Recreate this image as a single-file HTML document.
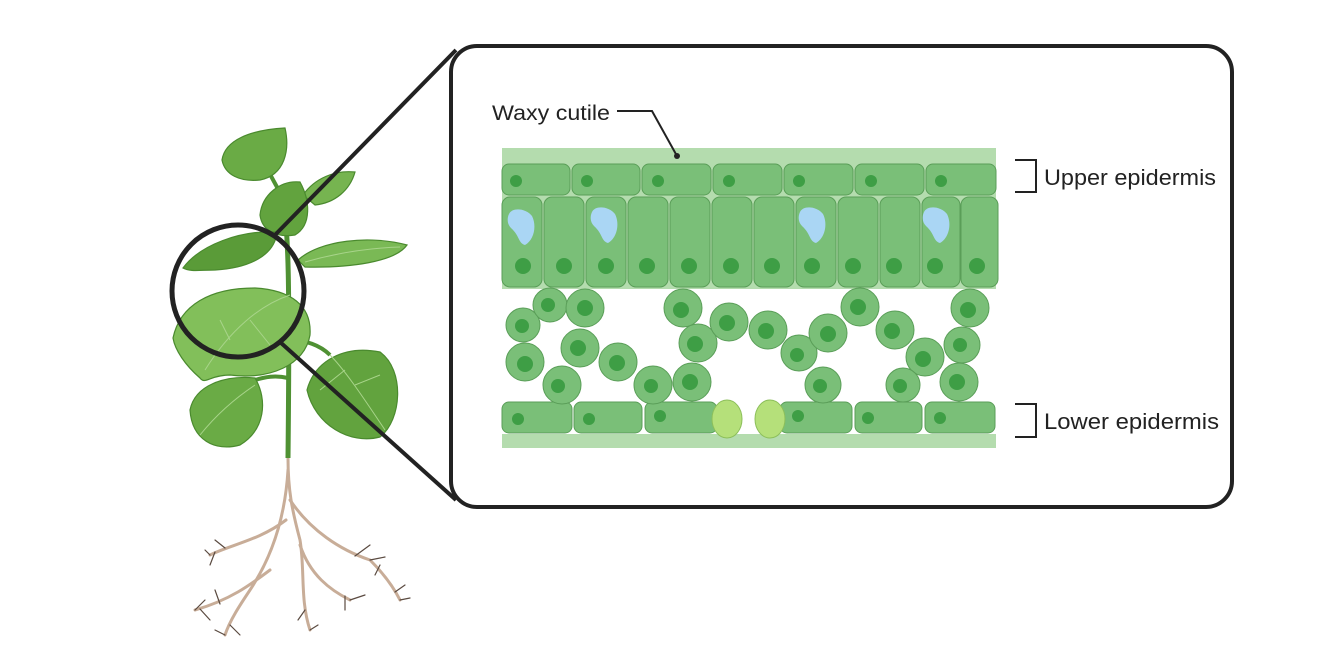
<!DOCTYPE html>
<html><head><meta charset="utf-8"><style>
html,body{margin:0;padding:0;background:#fff;}
svg{display:block;}
text{font-family:"Liberation Sans",sans-serif;fill:#222;}
</style></head><body>
<svg width="1329" height="664" viewBox="0 0 1329 664" xmlns="http://www.w3.org/2000/svg">
<!-- roots -->
<g fill="none" stroke="#c8ad98" stroke-width="3" stroke-linecap="round">
<path d="M288 458 C288 490 292 510 300 540 C305 570 300 600 310 630"/>
<path d="M288 470 C285 520 270 560 250 590 C240 605 230 620 225 635"/>
<path d="M290 500 C310 530 340 550 370 560 C385 575 395 590 400 600"/>
<path d="M286 520 C260 540 230 545 210 555"/>
<path d="M300 545 C310 575 330 590 350 600"/>
<path d="M270 570 C250 585 230 600 195 610"/>
</g>
<g fill="none" stroke="#5a4a40" stroke-width="1.2" stroke-linecap="round">
<path d="M210 555 L205 550 M215 552 L210 565 M225 548 L215 540"/>
<path d="M370 560 L385 557 M380 565 L375 575 M355 556 L370 545"/>
<path d="M195 610 L205 600 M200 609 L210 620 M220 604 L215 590"/>
<path d="M350 600 L365 595 M345 596 L345 610"/>
<path d="M400 600 L410 598 M395 592 L405 585"/>
<path d="M225 635 L215 630 M230 625 L240 635"/>
<path d="M310 630 L318 625 M305 610 L298 620"/>
</g>
<!-- stem -->
<path d="M284 200 C288 240 290 270 288 458" stroke="#4f9133" stroke-width="5" fill="none"/>
<path d="M265 165 L284 200" stroke="#4f9133" stroke-width="4"/>
<path d="M290 340 C305 340 320 345 330 355" stroke="#4f9133" stroke-width="4" fill="none"/>
<path d="M288 378 C275 375 265 377 255 380" stroke="#4f9133" stroke-width="4" fill="none"/>
<!-- leaves -->
<g stroke="#4a8a2e" stroke-width="1.2">
<path d="M222 160 C225 140 250 130 285 128 C290 150 285 175 260 180 C240 182 225 175 222 160Z" fill="#6aab45"/>
<path d="M303 195 C315 178 335 170 355 172 C350 190 335 203 315 205Z" fill="#76b450"/>
<path d="M260 215 C262 195 280 180 300 182 C310 200 312 225 295 235 C275 238 262 230 260 215Z" fill="#62a33e"/>
<path d="M183 268 C200 245 240 230 277 232 C275 255 250 268 215 270 C200 270 190 272 183 268Z" fill="#5a9b38"/>
<path d="M298 260 C320 240 370 235 407 245 C395 262 350 268 305 267Z" fill="#7ab955"/>
<path d="M173 338 C180 305 210 288 255 288 C290 290 312 305 310 335 C305 365 270 380 230 375 C210 375 205 385 200 378 C185 365 175 350 173 338Z" fill="#82bf5a"/>
<path d="M190 410 C195 385 225 375 255 378 C268 400 265 430 240 445 C215 452 192 440 190 410Z" fill="#6aab45"/>
<path d="M307 390 C315 360 345 345 380 352 C405 370 402 420 380 437 C350 445 315 425 307 390Z" fill="#62a33e"/>
</g>
<g fill="none" stroke="#a8d48a" stroke-width="1">
<path d="M205 370 C230 330 260 305 290 295"/><path d="M230 340 L220 320 M250 320 L270 345"/>
<path d="M200 435 C220 410 240 395 255 385"/>
<path d="M385 430 C365 400 345 370 330 355"/><path d="M355 385 L380 375 M345 370 L320 390"/>
<path d="M305 262 C340 252 370 248 400 247"/>
</g>
<!-- magnifier -->
<circle cx="238" cy="291" r="66" fill="none" stroke="#222" stroke-width="5"/>
<line x1="274" y1="236" x2="456" y2="50" stroke="#222" stroke-width="4"/>
<line x1="280" y1="342" x2="456" y2="500" stroke="#222" stroke-width="4"/>
<rect x="451" y="46" width="781" height="461" rx="26" fill="#fff" stroke="#222" stroke-width="4"/>
<!-- cuticle -->
<rect x="502" y="148" width="494" height="300" fill="#b4dcae"/>
<rect x="502" y="289" width="494" height="145" fill="#fff"/>
<g fill="#7abf78" stroke="#5a9e58" stroke-width="1">
<rect x="502" y="164" width="68" height="31" rx="7"/>
<rect x="572" y="164" width="68" height="31" rx="7"/>
<rect x="642" y="164" width="69" height="31" rx="7"/>
<rect x="713" y="164" width="69" height="31" rx="7"/>
<rect x="784" y="164" width="69" height="31" rx="7"/>
<rect x="855" y="164" width="69" height="31" rx="7"/>
<rect x="926" y="164" width="70" height="31" rx="7"/>
<rect x="502" y="197" width="40" height="90" rx="8"/>
<rect x="544" y="197" width="40" height="90" rx="8"/>
<rect x="586" y="197" width="40" height="90" rx="8"/>
<rect x="628" y="197" width="40" height="90" rx="8"/>
<rect x="670" y="197" width="40" height="90" rx="8"/>
<rect x="712" y="197" width="40" height="90" rx="8"/>
<rect x="754" y="197" width="40" height="90" rx="8"/>
<rect x="796" y="197" width="40" height="90" rx="8"/>
<rect x="838" y="197" width="40" height="90" rx="8"/>
<rect x="880" y="197" width="40" height="90" rx="8"/>
<rect x="922" y="197" width="38" height="90" rx="8"/>
<rect x="961" y="197" width="37" height="90" rx="8"/>
<rect x="502" y="402" width="70" height="31" rx="7"/>
<rect x="574" y="402" width="68" height="31" rx="7"/>
<rect x="645" y="402" width="72" height="31" rx="7"/>
<rect x="780" y="402" width="72" height="31" rx="7"/>
<rect x="855" y="402" width="67" height="31" rx="7"/>
<rect x="925" y="402" width="70" height="31" rx="7"/>
<circle cx="523" cy="325" r="17"/><circle cx="550" cy="305" r="17"/><circle cx="585" cy="308" r="19"/>
<circle cx="525" cy="362" r="19"/><circle cx="580" cy="348" r="19"/><circle cx="562" cy="385" r="19"/>
<circle cx="618" cy="362" r="19"/><circle cx="653" cy="385" r="19"/><circle cx="683" cy="308" r="19"/>
<circle cx="698" cy="343" r="19"/><circle cx="692" cy="382" r="19"/><circle cx="729" cy="322" r="19"/>
<circle cx="768" cy="330" r="19"/><circle cx="799" cy="353" r="18"/><circle cx="823" cy="385" r="18"/>
<circle cx="828" cy="333" r="19"/><circle cx="860" cy="307" r="19"/><circle cx="895" cy="330" r="19"/>
<circle cx="925" cy="357" r="19"/><circle cx="903" cy="385" r="17"/><circle cx="970" cy="308" r="19"/>
<circle cx="962" cy="345" r="18"/><circle cx="959" cy="382" r="19"/>
</g>
<ellipse cx="727" cy="419" rx="15" ry="19" fill="#b5e07a" stroke="#8cbf5a"/>
<ellipse cx="770" cy="419" rx="15" ry="19" fill="#b5e07a" stroke="#8cbf5a"/>
<g fill="#aad6f4">
<path d="M509 214 C512 207 526 208 532 216 C537 226 534 240 525 245 C518 243 520 236 511 228 C507 224 507 218 509 214Z"/>
<path d="M592 212 C595 205 609 206 615 214 C620 224 617 238 608 243 C601 241 603 234 594 226 C590 222 590 216 592 212Z"/>
<path d="M800 212 C803 205 817 206 823 214 C828 224 825 238 816 243 C809 241 811 234 802 226 C798 222 798 216 800 212Z"/>
<path d="M924 212 C927 205 941 206 947 214 C952 224 949 238 940 243 C933 241 935 234 926 226 C922 222 922 216 924 212Z"/>
</g>
<g fill="#3e9e45">
<circle cx="516" cy="181" r="6"/><circle cx="587" cy="181" r="6"/><circle cx="658" cy="181" r="6"/>
<circle cx="729" cy="181" r="6"/><circle cx="799" cy="181" r="6"/><circle cx="871" cy="181" r="6"/><circle cx="941" cy="181" r="6"/>
<circle cx="523" cy="266" r="8"/><circle cx="564" cy="266" r="8"/><circle cx="606" cy="266" r="8"/><circle cx="647" cy="266" r="8"/>
<circle cx="689" cy="266" r="8"/><circle cx="731" cy="266" r="8"/><circle cx="772" cy="266" r="8"/><circle cx="812" cy="266" r="8"/>
<circle cx="853" cy="266" r="8"/><circle cx="894" cy="266" r="8"/><circle cx="935" cy="266" r="8"/><circle cx="977" cy="266" r="8"/>
<circle cx="518" cy="419" r="6"/><circle cx="589" cy="419" r="6"/><circle cx="660" cy="416" r="6"/>
<circle cx="798" cy="416" r="6"/><circle cx="868" cy="418" r="6"/><circle cx="940" cy="418" r="6"/>
<circle cx="522" cy="326" r="7"/><circle cx="548" cy="305" r="7"/><circle cx="585" cy="308" r="8"/>
<circle cx="525" cy="364" r="8"/><circle cx="578" cy="348" r="8"/><circle cx="558" cy="386" r="7"/>
<circle cx="617" cy="363" r="8"/><circle cx="651" cy="386" r="7"/><circle cx="681" cy="310" r="8"/>
<circle cx="695" cy="344" r="8"/><circle cx="690" cy="382" r="8"/><circle cx="727" cy="323" r="8"/>
<circle cx="766" cy="331" r="8"/><circle cx="797" cy="355" r="7"/><circle cx="820" cy="386" r="7"/>
<circle cx="828" cy="334" r="8"/><circle cx="858" cy="307" r="8"/><circle cx="892" cy="331" r="8"/>
<circle cx="923" cy="359" r="8"/><circle cx="900" cy="386" r="7"/><circle cx="968" cy="310" r="8"/>
<circle cx="960" cy="345" r="7"/><circle cx="957" cy="382" r="8"/>
</g>
<text x="492" y="120" font-size="21" textLength="118" lengthAdjust="spacingAndGlyphs">Waxy cutile</text>
<polyline points="617,111 652,111 677,156" fill="none" stroke="#222" stroke-width="2"/>
<circle cx="677" cy="156" r="3" fill="#222"/>
<polyline points="1015,160 1036,160 1036,192 1015,192" fill="none" stroke="#222" stroke-width="2"/>
<text x="1044" y="185" font-size="22" textLength="172" lengthAdjust="spacingAndGlyphs">Upper epidermis</text>
<polyline points="1015,404 1036,404 1036,437 1015,437" fill="none" stroke="#222" stroke-width="2"/>
<text x="1044" y="429" font-size="22" textLength="175" lengthAdjust="spacingAndGlyphs">Lower epidermis</text>
</svg>
</body></html>
